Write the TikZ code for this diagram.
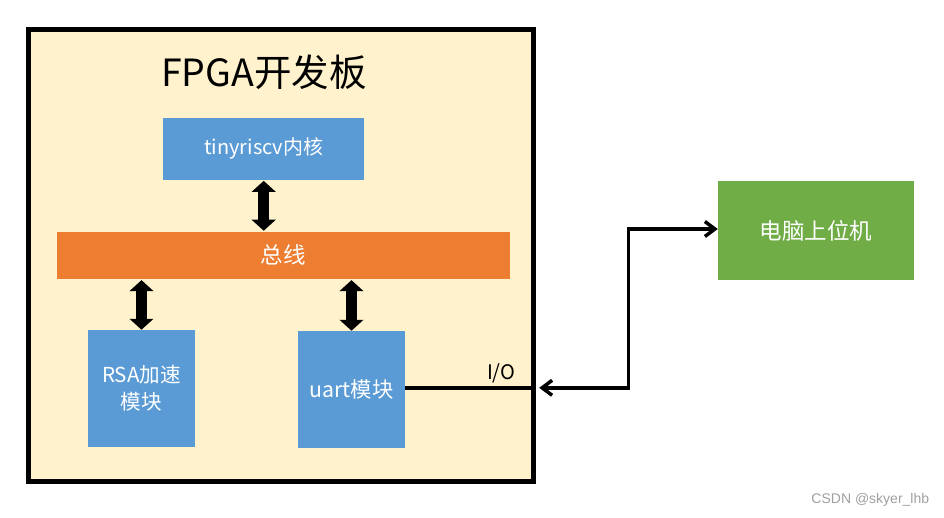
\documentclass[tikz,border=0pt]{standalone}
\usepackage{fontspec}
\setmainfont{Noto Sans CJK SC}
\newfontfamily\markfont{Liberation Sans}
\usetikzlibrary{arrows.meta,calc}

\definecolor{boardfill}{HTML}{FFF2CC}
\definecolor{blockblue}{HTML}{5B9BD5}
\definecolor{busorange}{HTML}{ED7D31}
\definecolor{pcgreen}{HTML}{70AD47}
\definecolor{markgray}{HTML}{A0A0A0}

\tikzset{
  x=1pt, y=-1pt,
  block/.style={fill=blockblue, text=white, inner sep=0pt, align=center},
  busbar/.style={fill=busorange, text=white, inner sep=0pt},
  pcbox/.style={fill=pcgreen, text=white, inner sep=0pt},
  fatlink/.style={line width=11pt,
    {Triangle[length=11pt,width=23.5pt]}-{Triangle[length=11pt,width=23.5pt]}},
  iolink/.style={line width=3.5pt, line cap=butt},
  iobarb/.style={{Straight Barb[length=10pt,width=15pt,line width=3.5pt]}-{Straight Barb[length=10pt,width=15pt,line width=3.5pt]}}
}

\begin{document}
\begin{tikzpicture}
  % canvas
  \fill[white] (0,0) rectangle (944,518);
  \useasboundingbox (0,0) rectangle (944,518);

  % board frame
  \node[draw=black, line width=5pt, fill=boardfill, inner sep=0pt,
        minimum width=505.2pt, minimum height=452.3pt] (board) at (281.1,255.2) {};
  \node[font=\fontsize{37.5}{40}\selectfont] (title) at (264,72.5) {FPGA开发板};

  % blocks on the board
  \node[block, font=\fontsize{20}{24}\selectfont,
        minimum width=200.7pt, minimum height=61.7pt] (core) at (263.7,148.8) {tinyriscv内核};
  \node[busbar, font=\fontsize{22.5}{26}\selectfont,
        minimum width=453.3pt, minimum height=46.7pt] (bus) at (283.3,255.3) {总线};
  \node[block, font=\fontsize{20.6}{26.7}\selectfont,
        minimum width=107pt, minimum height=116.7pt] (rsa) at (141.5,388.3) {RSA加速\\模块};
  \node[block, font=\fontsize{21.3}{26}\selectfont,
        minimum width=107pt, minimum height=116.7pt] (uart) at (351.5,389.3) {uart模块};

  % host computer
  \node[pcbox, font=\fontsize{22.5}{26}\selectfont,
        minimum width=196pt, minimum height=99pt] (pc) at (816,230.5) {电脑上位机};

  % bus connections
  \draw[fatlink, shorten <=1pt, shorten >=1pt] (core.south) -- (core.south |- bus.north);
  \draw[fatlink, shorten <=1.3pt] (bus.south -| rsa.north) -- (rsa.north);
  \draw[fatlink, shorten <=1.3pt] (bus.south -| uart.north) -- (uart.north);

  % I/O port and serial link to the host
  \coordinate (ioport) at ([yshift=1.5pt]uart.east);
  \coordinate (edge) at (board.east |- ioport);
  \coordinate (ioend) at ([xshift=3pt]edge);
  \draw[iolink] (ioport) -- (edge);
  \node[font=\fontsize{20}{24}\selectfont, anchor=base] (io) at (501.2,379.3) {I/O};
  \draw[iolink, iobarb] (ioend) -| ($(ioend)!.5!([xshift=-0.5pt]pc.west)$) |- ([yshift=1.5pt]pc.west);

  % watermark
  \node[font=\markfont\fontsize{14}{16}\selectfont, text=markgray] (mark) at (870.3,500) {CSDN @skyer\_lhb};
\end{tikzpicture}
\end{document}
